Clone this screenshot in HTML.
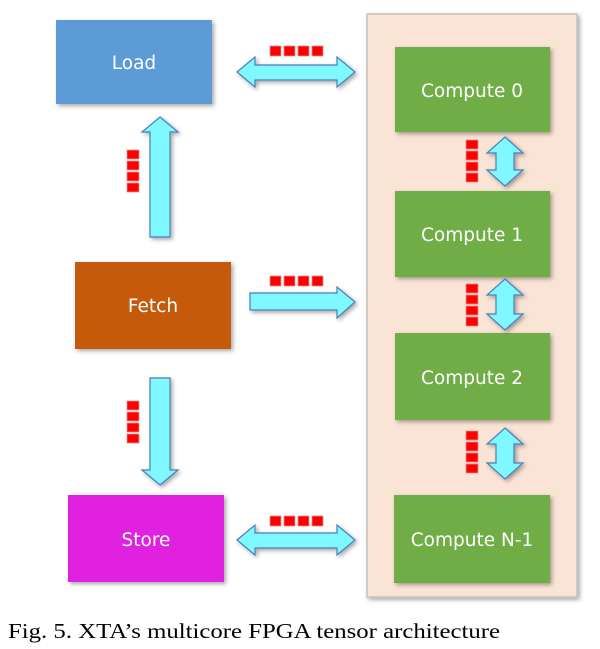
<!DOCTYPE html>
<html><head><meta charset="utf-8"><style>
html,body{margin:0;padding:0;background:#fff;width:600px;height:649px;overflow:hidden}
</style></head><body>
<svg width="600" height="649" xmlns="http://www.w3.org/2000/svg">
<defs>
<filter id="sh" x="-20%" y="-20%" width="140%" height="140%"><feDropShadow dx="2" dy="2" stdDeviation="2" flood-color="#000" flood-opacity="0.35"/></filter>
</defs>
<rect x="367" y="14" width="210" height="583" fill="#fae4d6" stroke="#c8c0ba" stroke-width="1.5" filter="url(#sh)"/>
<g font-family="DejaVu Sans, sans-serif" font-size="18.5" fill="#fff" text-anchor="middle">
<rect x="56" y="20" width="156" height="84" fill="#5b9bd5" filter="url(#sh)"/><text x="134" y="69">Load</text>
<rect x="75" y="262" width="156" height="87" fill="#c55a11" filter="url(#sh)"/><text x="153" y="312">Fetch</text>
<rect x="68" y="495" width="156" height="87" fill="#e020e0" filter="url(#sh)"/><text x="146" y="546">Store</text>
<rect x="395" y="47" width="155" height="85" fill="#70ad47" filter="url(#sh)"/><text x="472" y="97">Compute 0</text>
<rect x="395" y="191" width="155" height="86" fill="#70ad47" filter="url(#sh)"/><text x="472" y="241">Compute 1</text>
<rect x="395" y="333" width="155" height="87" fill="#70ad47" filter="url(#sh)"/><text x="472" y="384">Compute 2</text>
<rect x="394" y="495" width="156" height="88" fill="#70ad47" filter="url(#sh)"/><text x="472" y="546">Compute N-1</text>
</g>
<g fill="#80f8ff" stroke="#4a7ebb" stroke-width="1.2" filter="url(#sh)">
<polygon points="237,72 255,57 255,65 337,65 337,57 355,72 337,87 337,80 255,80 255,87"/>
<polygon points="237,540 255,525 255,533 337,533 337,525 355,540 337,555 337,548 255,548 255,555"/>
<polygon points="250,293 337,293 337,287 355,302 337,318 337,310 250,310"/>
<polygon points="160,117 178,132 170,132 170,237 150,237 150,132 142,132"/>
<polygon points="160,485 178,470 170,470 170,378 150,378 150,470 142,470"/>
<polygon points="505,137 523,153 514,153 514,170 523,170 505,186 487,170 496,170 496,153 487,153"/>
<polygon points="505,279 523,295 514,295 514,314 523,314 505,330 487,314 496,314 496,295 487,295"/>
<polygon points="505,428 523,444 514,444 514,463 523,463 505,479 487,463 496,463 496,444 487,444"/>
</g>
<g fill="#ff0000" stroke="#d89090" stroke-width="0.8">
<rect x="270" y="46" width="11" height="10"/><rect x="284" y="46" width="11" height="10"/><rect x="298" y="46" width="11" height="10"/><rect x="312" y="46" width="11" height="10"/>
<rect x="270" y="276" width="11" height="10"/><rect x="284" y="276" width="11" height="10"/><rect x="298" y="276" width="11" height="10"/><rect x="312" y="276" width="11" height="10"/>
<rect x="270" y="516" width="11" height="10"/><rect x="284" y="516" width="11" height="10"/><rect x="298" y="516" width="11" height="10"/><rect x="312" y="516" width="11" height="10"/>
<rect x="127" y="150" width="12" height="9"/><rect x="127" y="161" width="12" height="9"/><rect x="127" y="172" width="12" height="9"/><rect x="127" y="183" width="12" height="9"/>
<rect x="127" y="401" width="12" height="9"/><rect x="127" y="412" width="12" height="9"/><rect x="127" y="423" width="12" height="9"/><rect x="127" y="434" width="12" height="9"/>
<rect x="466" y="140" width="12" height="9"/><rect x="466" y="151" width="12" height="9"/><rect x="466" y="162" width="12" height="9"/><rect x="466" y="173" width="12" height="9"/>
<rect x="466" y="284" width="12" height="9"/><rect x="466" y="295" width="12" height="9"/><rect x="466" y="306" width="12" height="9"/><rect x="466" y="317" width="12" height="9"/>
<rect x="466" y="431" width="12" height="9"/><rect x="466" y="442" width="12" height="9"/><rect x="466" y="453" width="12" height="9"/><rect x="466" y="464" width="12" height="9"/>
</g>
<text x="8" y="638" font-family="Liberation Serif, serif" font-size="21" fill="#000" textLength="492" lengthAdjust="spacingAndGlyphs">Fig. 5. XTA’s multicore FPGA tensor architecture</text>
</svg>
</body></html>
